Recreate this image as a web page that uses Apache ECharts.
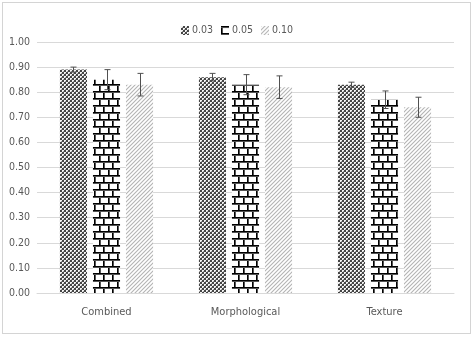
<!DOCTYPE html>
<html>
<head>
<meta charset="utf-8">
<script src="https://cdn.jsdelivr.net/npm/echarts@6/dist/echarts.min.js"></script>
<style>
  html, body { margin: 0; padding: 0; background: #fff; }
  #chart { position: absolute; left: 0; top: 0; width: 474px; height: 337px; }
  #frame { position: absolute; left: 2px; top: 2px; width: 467px; height: 330px;
           border: 1px solid #d4d4d4; pointer-events: none; }
</style>
</head>
<body>
<div id="chart"></div>
<div id="frame"></div>
<script>
// Feature sets on the x axis
const categories = ['Combined', 'Morphological', 'Texture'];
// Threshold settings shown in the legend
const seriesNames = ['0.03', '0.05', '0.10'];
// Mean scores per threshold
const values003 = [0.89, 0.86, 0.83];
const values005 = [0.85, 0.83, 0.77];
const values010 = [0.83, 0.82, 0.74];
// Error bar half-lengths
const errors003 = [0.01, 0.015, 0.01];
const errors005 = [0.04, 0.04, 0.035];
const errors010 = [0.045, 0.045, 0.04];
// Y axis
const yTicks = { min: 0, max: 1, interval: 0.1 };

const FONT = "'Liberation Sans Narrow', 'DejaVu Sans Condensed', 'Liberation Sans', sans-serif";
const CAT_GAP = 0.33;
const BAR_GAP = 0.22;

function tile(w, h, draw) {
  const c = document.createElement('canvas');
  c.width = w; c.height = h;
  const ctx = c.getContext('2d');
  draw(ctx);
  return { image: c, repeat: 'repeat' };
}

// Dense dark honeycomb-like texture
const dotted = tile(4, 4, ctx => {
  ctx.fillStyle = '#454545';
  ctx.fillRect(0, 0, 4, 4);
  ctx.fillStyle = '#f4f4f4';
  ctx.fillRect(0, 0, 2, 2);
  ctx.fillRect(2, 2, 2, 2);
  ctx.fillStyle = '#a0a0a0';
  ctx.fillRect(1, 1, 1, 1);
  ctx.fillRect(3, 3, 1, 1);
});

// Brick wall: 9px wide bricks, 7px courses
const brick = tile(18, 14, ctx => {
  ctx.fillStyle = '#ffffff';
  ctx.fillRect(0, 0, 18, 14);
  ctx.fillStyle = '#000000';
  ctx.fillRect(0, 0, 18, 1);
  ctx.fillRect(0, 7, 18, 1);
  ctx.fillRect(0, 0, 1, 7);
  ctx.fillRect(9, 0, 1, 7);
  ctx.fillRect(4, 7, 1, 7);
  ctx.fillRect(13, 7, 1, 7);
  ctx.fillStyle = '#555555';
  ctx.fillRect(0, 1, 18, 1);
  ctx.fillRect(0, 8, 18, 1);
  ctx.fillRect(1, 2, 1, 5);
  ctx.fillRect(10, 2, 1, 5);
  ctx.fillRect(5, 9, 1, 5);
  ctx.fillRect(14, 9, 1, 5);
});

// Light wide upward diagonal
const diagonal = tile(4, 4, ctx => {
  ctx.fillStyle = '#ffffff';
  ctx.fillRect(0, 0, 4, 4);
  ctx.strokeStyle = '#b4b4b4';
  ctx.lineWidth = 1.1;
  ctx.beginPath();
  ctx.moveTo(-1, 5); ctx.lineTo(5, -1);
  ctx.moveTo(-1, 1); ctx.lineTo(1, -1);
  ctx.moveTo(3, 5); ctx.lineTo(5, 3);
  ctx.stroke();
});

const fills = [dotted, brick, diagonal];
const allValues = [values003, values005, values010];
const allErrors = [errors003, errors005, errors010];

const barSeries = seriesNames.map((name, i) => ({
  name: name,
  type: 'bar',
  data: allValues[i],
  barGap: (BAR_GAP * 100) + '%',
  barCategoryGap: (CAT_GAP * 100) + '%',
  itemStyle: { color: fills[i] },
  emphasis: { disabled: true }
}));

function errorRender(params, api) {
  const cat = api.value(0);
  const v = api.value(1);
  const e = api.value(2);
  const idx = api.value(3);
  const band = api.size([1, 0])[0];
  const bw = band * (1 - CAT_GAP) / (3 + 2 * BAR_GAP);
  const off = (idx - 1) * bw * (1 + BAR_GAP);
  const top = api.coord([cat, v + e]);
  const bot = api.coord([cat, v - e]);
  const x = Math.round(top[0] + off) + 0.5;
  const style = { stroke: '#505050', lineWidth: 1 };
  const cap = 3;
  return {
    type: 'group',
    children: [
      { type: 'line', shape: { x1: x, y1: top[1], x2: x, y2: bot[1] }, style },
      { type: 'line', shape: { x1: x - cap, y1: top[1], x2: x + cap, y2: top[1] }, style },
      { type: 'line', shape: { x1: x - cap, y1: bot[1], x2: x + cap, y2: bot[1] }, style }
    ]
  };
}

const errorSeries = seriesNames.map((name, i) => ({
  name: 'err' + name,
  type: 'custom',
  renderItem: errorRender,
  data: categories.map((c, k) => [k, allValues[i][k], allErrors[i][k], i]),
  z: 10,
  silent: true
}));

const chart = echarts.init(document.getElementById('chart'), null, { renderer: 'canvas' });
chart.setOption({
  animation: false,
  backgroundColor: '#ffffff',
  legend: {
    data: seriesNames,
    top: 20,
    left: 'center',
    itemWidth: 8,
    itemHeight: 9,
    itemGap: 8,
    icon: 'rect',
    textStyle: { color: '#595959', fontSize: 10.5, fontFamily: FONT, padding: [0, 0, 0, -2] }
  },
  grid: { left: 37, right: 20, top: 42, bottom: 44, containLabel: false },
  xAxis: {
    type: 'category',
    data: categories,
    axisLine: { lineStyle: { color: '#d9d9d9' } },
    axisTick: { show: false },
    axisLabel: { color: '#595959', fontSize: 11, fontFamily: FONT, margin: 14 },
    splitLine: { show: false }
  },
  yAxis: {
    type: 'value',
    min: yTicks.min,
    max: yTicks.max,
    interval: yTicks.interval,
    axisLine: { show: false },
    axisTick: { show: false },
    axisLabel: {
      color: '#595959', fontSize: 10.5, fontFamily: FONT, margin: 7,
      formatter: v => v.toFixed(2)
    },
    splitLine: { lineStyle: { color: '#d9d9d9' } }
  },
  series: barSeries.concat(errorSeries)
});
</script>
</body>
</html>
